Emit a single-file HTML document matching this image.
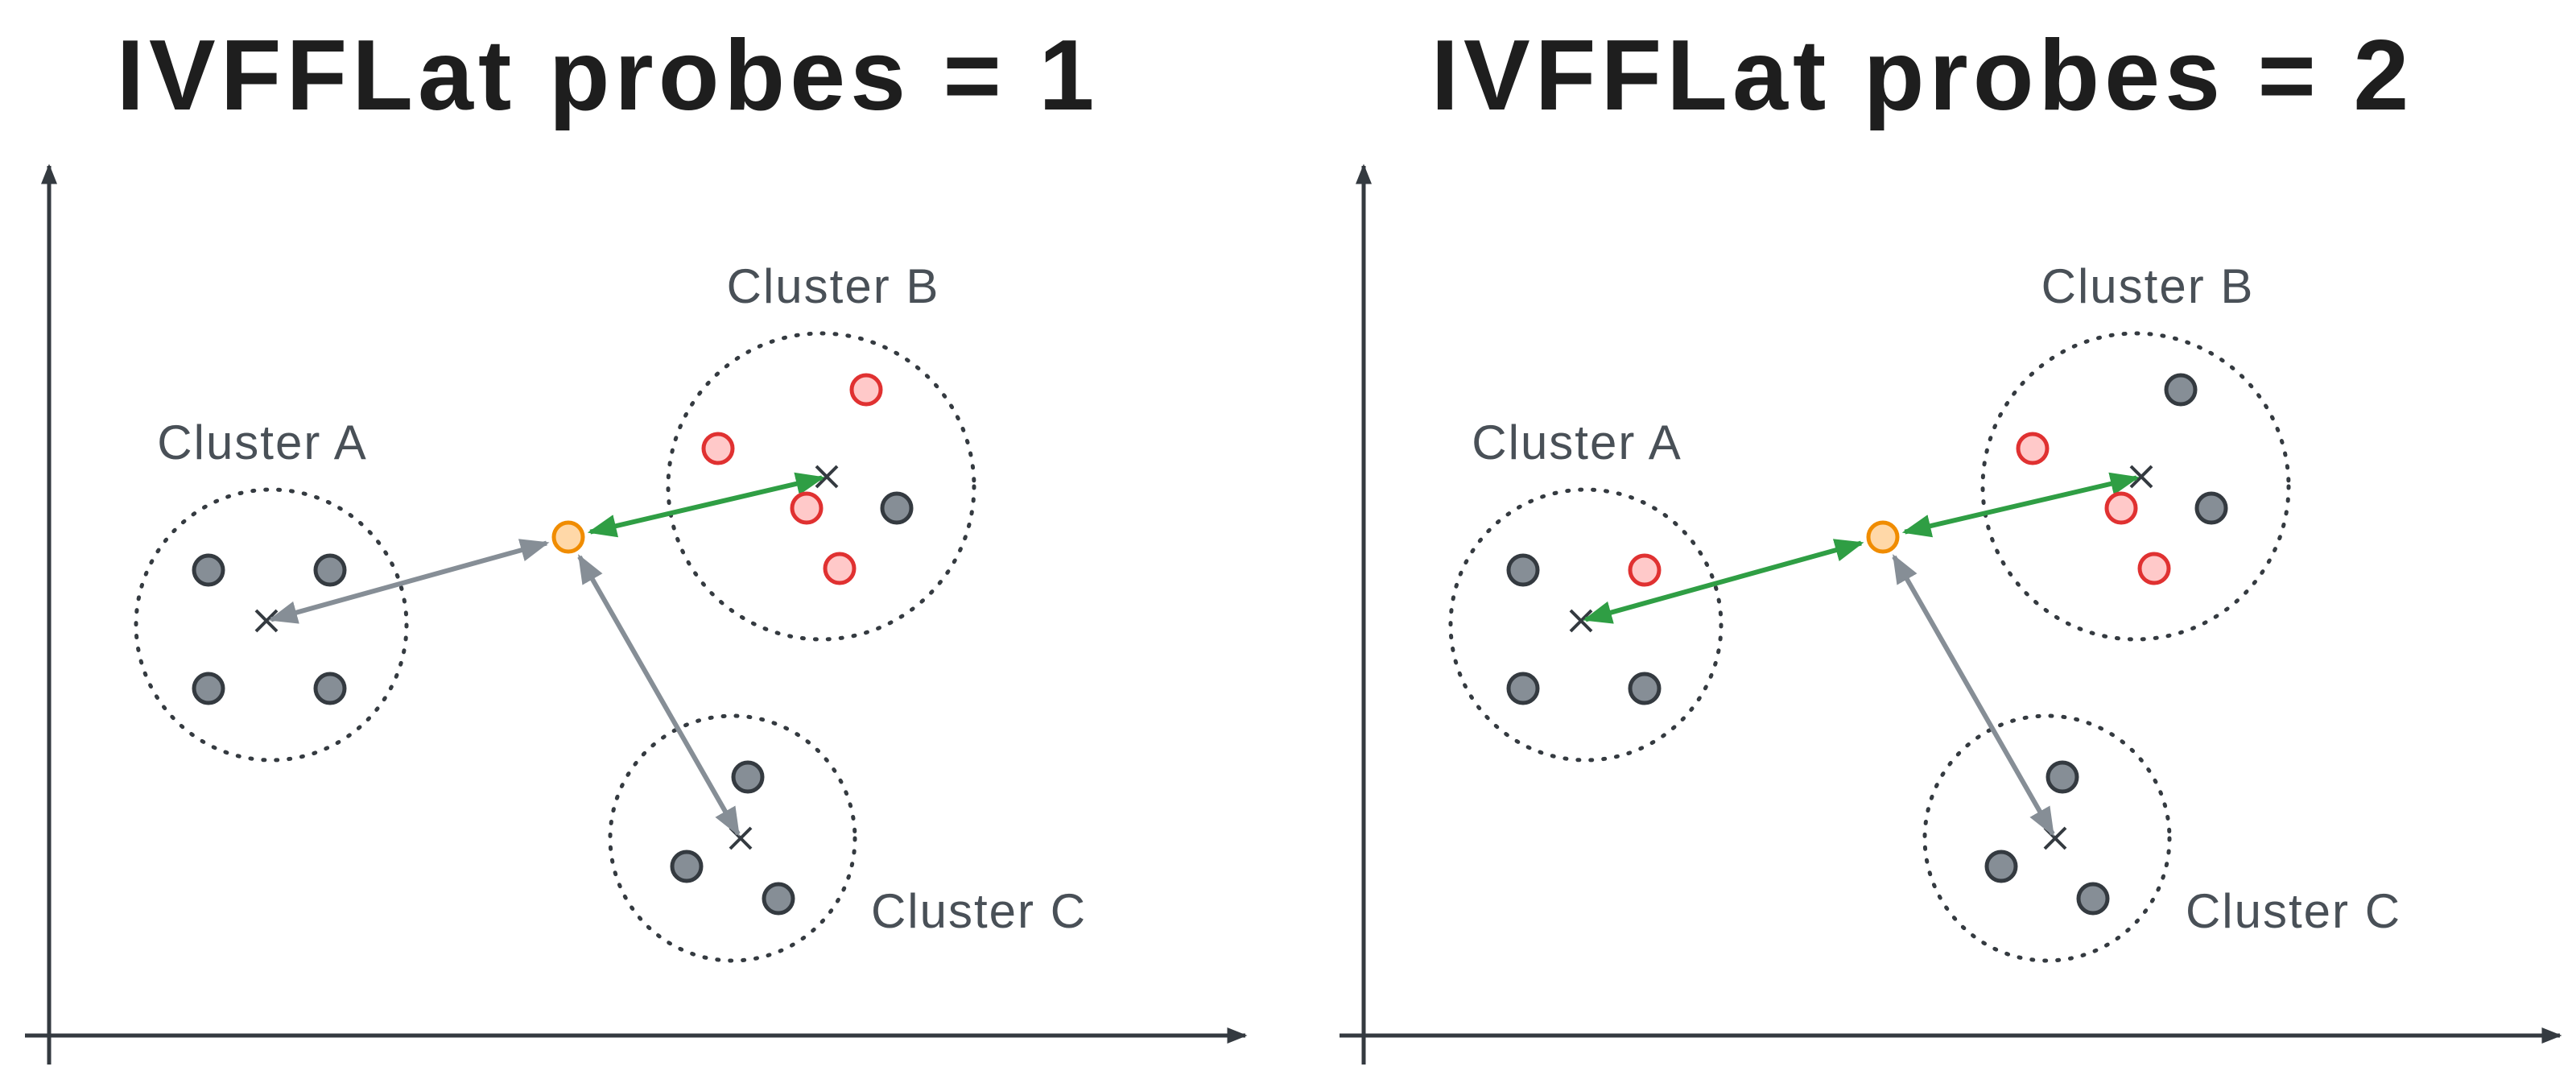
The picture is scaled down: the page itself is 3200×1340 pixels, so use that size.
<!DOCTYPE html>
<html><head><meta charset="utf-8"><style>
html,body{margin:0;padding:0;background:#fff;}
svg{display:block;}
text{font-family:"Liberation Sans","DejaVu Sans",sans-serif;}
</style></head><body>
<svg id="chart" width="3200" height="1340" viewBox="0 0 3200 1340" xmlns="http://www.w3.org/2000/svg">
<defs>
<marker id="ag" viewBox="0 0 10 10" refX="9" refY="5" markerWidth="6" markerHeight="6" orient="auto-start-reverse" markerUnits="strokeWidth"><path d="M0,1 L10,5 L0,9 z" fill="#868e96"/></marker>
<marker id="agr" viewBox="0 0 10 10" refX="9" refY="5" markerWidth="6" markerHeight="6" orient="auto-start-reverse" markerUnits="strokeWidth"><path d="M0,1 L10,5 L0,9 z" fill="#2f9e44"/></marker>
<marker id="ax" viewBox="0 0 10 10" refX="9" refY="5" markerWidth="5" markerHeight="5" orient="auto" markerUnits="strokeWidth"><path d="M0,1 L10,5 L0,9 z" fill="#343a40"/></marker>
</defs>
</svg>
<script>
// Data (coordinates in diagram units, per panel)
const panelTitles = ["IVFFLat probes = 1", "IVFFLat probes = 2"];
const panelOffsets = [0, 1633];
const clusterNames = ["Cluster A", "Cluster B", "Cluster C"];
const clusterCenters = [[337,776],[1020,604],[910,1041]];
const clusterRadii = [168,190,152];
const centroids = [[331,771],[1027,592],[920,1041]];
const labelPos = [[326,570],[1035,376],[1216,1152]];
const pointsX = [259,410,259,410, 1076,892,1002,1043,1114, 929,853,967];
const pointsY = [708,708,855,855, 484,557,631,706,631, 965,1076,1116];
const pointsRedP1 = [0,0,0,0, 1,1,1,1,0, 0,0,0];
const pointsRedP2 = [0,1,0,0, 0,1,1,1,0, 0,0,0];
const query = [706,667];
const arrowGreenP1 = [0,1,0];
const arrowGreenP2 = [1,1,0];

const svg = document.getElementById('chart');
const NS = 'http://www.w3.org/2000/svg';
function mk(tag, attrs, parent){const e=document.createElementNS(NS,tag);for(const k in attrs)e.setAttribute(k,attrs[k]);(parent||svg).appendChild(e);return e;}

panelTitles.forEach((title,pi)=>{
  const ox = panelOffsets[pi];
  const g = mk('g',{});
  
  
  const t = mk('text',{x:755+ox,y:136,'font-size':124,'font-weight':'bold','letter-spacing':6,'text-anchor':'middle',fill:'#1e1e1e'},g);
  t.textContent = title;
  
  
  const ya = mk('line',{x1:61+ox,y1:1322,x2:61+ox,y2:206,stroke:'#343a40','stroke-width':5,'marker-end':'url(#ax)'},g);
  
  
  const xa = mk('line',{x1:31+ox,y1:1286,x2:1547+ox,y2:1286,stroke:'#343a40','stroke-width':5,'marker-end':'url(#ax)'},g);
  
  
  const reds = pi===0?pointsRedP1:pointsRedP2;
  const greens = pi===0?arrowGreenP1:arrowGreenP2;
  clusterNames.forEach((nm,ci)=>{
    const c = mk('circle',{cx:clusterCenters[ci][0]+ox,cy:clusterCenters[ci][1],r:clusterRadii[ci],fill:'none',stroke:'#343a40','stroke-width':5,'stroke-dasharray':'2 14','stroke-linecap':'round'},g);
    
    
    const l = mk('text',{x:labelPos[ci][0]+ox,y:labelPos[ci][1],'font-size':60,'letter-spacing':2,'text-anchor':'middle',fill:'#495057'},g);
    l.textContent = nm;
    
    
    const cx = centroids[ci][0]+ox, cy = centroids[ci][1];
    const cg = mk('path',{d:`M${cx-13},${cy-13}L${cx+13},${cy+13}M${cx+13},${cy-13}L${cx-13},${cy+13}`,stroke:'#343a40','stroke-width':4},g);
    
    
    const qx=query[0]+ox, qy=query[1];
    const dx=cx-qx, dy=cy-qy, d=Math.hypot(dx,dy);
    const s=28/d, e=6/d;
    const col = greens[ci]?'#2f9e44':'#868e96';
    const a = mk('line',{x1:qx+dx*s,y1:qy+dy*s,x2:cx-dx*e,y2:cy-dy*e,stroke:col,'stroke-width':6,'marker-start':greens[ci]?'url(#agr)':'url(#ag)','marker-end':greens[ci]?'url(#agr)':'url(#ag)'},g);
    
    
  });
  pointsX.forEach((px,i)=>{
    const red = reds[i];
    const p = mk('circle',{cx:px+ox,cy:pointsY[i],r:18,fill:red?'#ffc9c9':'#868e96',stroke:red?'#e03131':'#343a40','stroke-width':5},g);
    
    
  });
  const q = mk('circle',{cx:query[0]+ox,cy:query[1],r:18,fill:'#ffd8a8',stroke:'#f08c00','stroke-width':5},g);
  
  
});
</script>
</body></html>
